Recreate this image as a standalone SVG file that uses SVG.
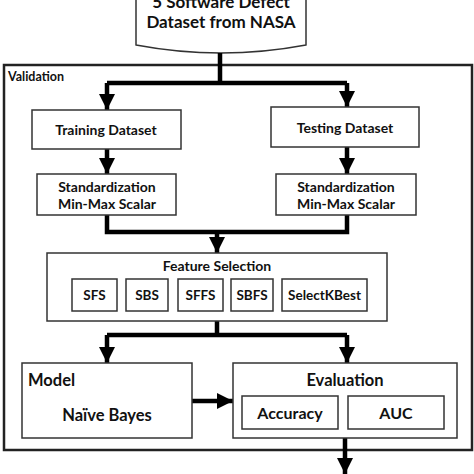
<svg xmlns="http://www.w3.org/2000/svg" width="474" height="474" viewBox="0 0 474 474">
<style>
.box{fill:#fff;stroke:#333;stroke-width:1.5}
.frame{fill:none;stroke:#222;stroke-width:2.5}
.t{font-family:Lato,"Liberation Sans",sans-serif;font-weight:bold;fill:#111;text-anchor:middle}
.c{fill:none;stroke:#000;stroke-width:4.5}
</style>
<defs>
<marker id="ah" markerUnits="userSpaceOnUse" markerWidth="16" markerHeight="16" viewBox="0 0 16 16" refX="16" refY="8" orient="auto">
<path d="M0,0 L16,8 L0,16 Z" fill="#000"/>
</marker>
</defs>
<rect width="474" height="474" fill="#fff"/>
<g id="validation">
<rect class="frame" x="4" y="65" width="468" height="385"/>
<text class="t" x="8" y="81" font-size="12.5" style="text-anchor:start">Validation</text>
</g>
<g id="nasa">
<path class="box" d="M136,-10 L136,45 Q221,61 306,45 L306,-10 Z"/>
<text class="t" x="221" y="8" font-size="17">5 Software Defect</text>
<text class="t" x="221" y="28" font-size="17">Dataset from NASA</text>
</g>
<g id="connectors">
<path class="c" d="M220,53 V83 M107,83 H347"/>
<path class="c" d="M107,83 V110" marker-end="url(#ah)"/>
<path class="c" d="M347,83 V107" marker-end="url(#ah)"/>
<path class="c" d="M107,149 V174" marker-end="url(#ah)"/>
<path class="c" d="M347,147 V174" marker-end="url(#ah)"/>
<path class="c" d="M107,215 V232 H347 V215"/>
<path class="c" d="M217,232 V253" marker-end="url(#ah)"/>
<path class="c" d="M217,321 V335 M107,335 H347"/>
<path class="c" d="M107,335 V363" marker-end="url(#ah)"/>
<path class="c" d="M347,335 V363" marker-end="url(#ah)"/>
<path class="c" d="M190,401 H233" marker-end="url(#ah)"/>
<path class="c" d="M345,438 V474" marker-end="url(#ah)"/>
</g>
<g id="training">
<rect class="box" x="32" y="110" width="149" height="39"/>
<text class="t" x="106" y="135" font-size="14">Training Dataset</text>
</g>
<g id="testing">
<rect class="box" x="271" y="107" width="148" height="40"/>
<text class="t" x="345" y="133" font-size="14">Testing Dataset</text>
</g>
<g id="std-left">
<rect class="box" x="37" y="174" width="139" height="41"/>
<text class="t" x="107" y="192" font-size="14">Standardization</text>
<text class="t" x="107" y="209" font-size="14">Min-Max Scalar</text>
</g>
<g id="std-right">
<rect class="box" x="276" y="174" width="140" height="41"/>
<text class="t" x="346" y="192" font-size="14">Standardization</text>
<text class="t" x="346" y="209" font-size="14">Min-Max Scalar</text>
</g>
<g id="feature-selection">
<rect class="box" x="47" y="253" width="340" height="68"/>
<text class="t" x="217" y="271" font-size="14">Feature Selection</text>
</g>
<g id="sfs"><rect class="box" x="72" y="279" width="45" height="32"/><text class="t" x="94.5" y="300" font-size="13.5">SFS</text></g>
<g id="sbs"><rect class="box" x="126" y="279" width="42" height="32"/><text class="t" x="147" y="300" font-size="13.5">SBS</text></g>
<g id="sffs"><rect class="box" x="178" y="279" width="45" height="32"/><text class="t" x="200.5" y="300" font-size="13.5">SFFS</text></g>
<g id="sbfs"><rect class="box" x="231" y="279" width="42" height="32"/><text class="t" x="252" y="300" font-size="13.5">SBFS</text></g>
<g id="selectkbest"><rect class="box" x="282" y="279" width="85" height="32"/><text class="t" x="324.5" y="300" font-size="13.5">SelectKBest</text></g>
<g id="model">
<rect class="box" x="22" y="363" width="170" height="75"/>
<text class="t" x="28" y="386" font-size="16.5" style="text-anchor:start">Model</text>
<text class="t" x="107" y="421" font-size="16.5">Naïve Bayes</text>
</g>
<g id="evaluation">
<rect class="box" x="233" y="363" width="224" height="75"/>
<text class="t" x="345" y="386" font-size="16.5">Evaluation</text>
</g>
<g id="accuracy"><rect class="box" x="242" y="396" width="96" height="33"/><text class="t" x="290" y="419" font-size="16">Accuracy</text></g>
<g id="auc"><rect class="box" x="348" y="396" width="96" height="33"/><text class="t" x="396" y="419" font-size="16">AUC</text></g>
</svg>
